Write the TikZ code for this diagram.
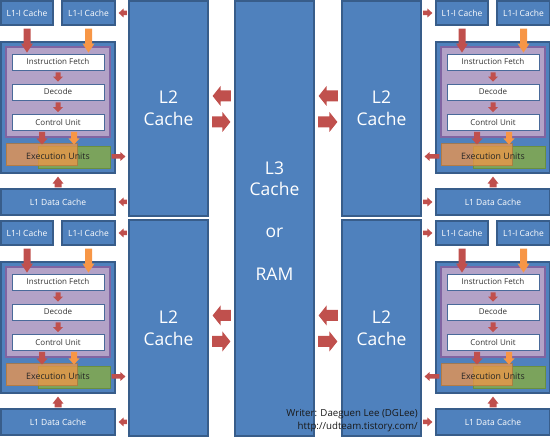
\documentclass[tikz,border=0pt]{standalone}
\usepackage{fontspec}
\setmainfont{Open Sans}
\usetikzlibrary{calc}

\definecolor{boxblue}{HTML}{4F81BD}
\definecolor{boxline}{HTML}{385D8A}
\definecolor{pipefill}{HTML}{B3A2C7}
\definecolor{pipeline}{HTML}{8064A2}
\definecolor{stageline}{HTML}{4A6A9A}
\definecolor{stagetext}{HTML}{333333}
\definecolor{exorange}{HTML}{F79646}
\definecolor{exorangeline}{HTML}{B0783C}
\definecolor{exgreen}{HTML}{7BA35C}
\definecolor{exgreenline}{HTML}{6A8F3E}
\definecolor{arrred}{HTML}{C0504D}
\definecolor{arrorange}{HTML}{F79646}

\tikzset{
  cache/.style={draw=boxline, fill=boxblue, line width=1.2pt, inner sep=0pt, text=white, font=\fontsize{8.5}{10}\selectfont},
  l1box/.style={cache, minimum width=52pt, minimum height=24pt},
  l1dbox/.style={cache, minimum width=114pt, minimum height=26pt},
  corebox/.style={cache, minimum width=114pt, minimum height=131pt},
  bigcache/.style={cache, minimum width=79pt, align=center, font=\fontsize{17.5}{22}\selectfont},
  pipe/.style={draw=pipeline, fill=pipefill, line width=1.2pt, minimum width=104pt, minimum height=90pt, inner sep=0pt},
  stagebox/.style={draw=stageline, fill=white, line width=0.8pt, minimum width=92pt, minimum height=16pt, inner sep=0pt, text=stagetext, font=\fontsize{8}{10}\selectfont},
  exo/.style={draw=exorangeline, fill=exorange, fill opacity=0.72, draw opacity=0.8, line width=1pt, minimum width=71pt, minimum height=22pt, inner sep=0pt},
  exg/.style={draw=exgreenline, fill=exgreen, line width=1pt, minimum width=72pt, minimum height=22pt, inner sep=0pt},
  extext/.style={text=black!85, font=\fontsize{8.8}{10}\selectfont, inner sep=0pt},
  gapin/.store in=\gapin, gapout/.store in=\gapout,
  blkshaft/.store in=\blkshaft, blkhead/.store in=\blkhead, blklen/.store in=\blklen,
  gapin=0pt, gapout=0pt, blkshaft=2pt, blkhead=4pt, blklen=4pt,
  blockarrow/.style={to path={let \p1=($(\tikztostart)!\gapin!(\tikztotarget)$), \p2=($(\tikztotarget)!\gapout!(\tikztostart)$), \p3=($(\p2)!\blklen!(\p1)$) in
    ($(\p1)!\blkshaft!90:(\p2)$) -- ($(\p3)!\blkshaft!90:(\p2)$) -- ($(\p3)!\blkhead!90:(\p2)$) -- (\p2)
    -- ($(\p3)!\blkhead!-90:(\p2)$) -- ($(\p3)!\blkshaft!-90:(\p2)$) -- ($(\p1)!\blkshaft!-90:(\p2)$) -- cycle}},
  arrbig/.style={fill=arrred, blockarrow, gapin=3.5pt, gapout=4pt, blkshaft=5.5pt, blkhead=10pt, blklen=8pt},
  arrfeed/.style={blockarrow, gapin=3pt, gapout=1pt, blkshaft=3.5pt, blkhead=6pt, blklen=9pt},
  arrstage/.style={fill=arrred, blockarrow, gapin=2pt, gapout=2pt, blkshaft=2.5pt, blkhead=5pt, blklen=5pt},
  arrissue/.style={blockarrow, gapin=1pt, gapout=-1pt, blkshaft=3pt, blkhead=5.5pt, blklen=6pt},
  arrload/.style={fill=arrred, blockarrow, gapin=1pt, gapout=3pt, blkshaft=3.5pt, blkhead=5.5pt, blklen=7pt},
  arrside/.style={fill=arrred, blockarrow, gapin=1.5pt, gapout=3pt, blkshaft=2.25pt, blkhead=4.5pt, blklen=5pt},
}

\begin{document}
\begin{tikzpicture}[x=1pt,y=-1pt]
  \useasboundingbox (0,0) rectangle (550,438);
  \node[bigcache, minimum height=215pt] (l2a) at (168.5,108.5) {L2\\Cache};
  \node[bigcache, minimum height=215pt] (l2b) at (381.5,108.5) {L2\\Cache};
  \node[bigcache, minimum height=216pt] (l2c) at (168.5,328) {L2\\Cache};
  \node[bigcache, minimum height=216pt] (l2d) at (381.5,328) {L2\\Cache};
  \node[bigcache, minimum height=435pt] (l3) at (274.5,218.5) {};
  \node[text=white, align=center, font=\fontsize{17.5}{21}\selectfont] (l3text) at ($(l3)+(0,2.5)$) {L3\\Cache\\[21.5pt]or\\[21.5pt]RAM};

  \foreach \c/\dx/\dy/\coreside/\cacheside in {a/0/0/east/west, b/435/0/west/east, c/0/220/east/west, d/435/220/west/east}{
    \begin{scope}[shift={(\dx,\dy)}]
      \node[l1box] (l1ia\c) at (27,13) {L1-I Cache};
      \node[l1box, minimum width=53pt] (l1ib\c) at (88.5,13) {L1-I Cache};
      \node[corebox] (core\c) at (58,107.5) {};
      \node[pipe] (pipe\c) at (58,92) {};
      \node[stagebox] (fetch\c) at (58,62) {Instruction Fetch};
      \node[stagebox] (decode\c) at (58,92) {Decode};
      \node[stagebox] (ctrl\c) at (58,122.5) {Control Unit};
      \node[exg] (grn\c) at (74,158) {};
      \node[exo] (orng\c) at (41.5,155) {};
      \node[extext] (exu\c) at (58,156.5) {Execution Units};
      \node[l1dbox] (l1d\c) at (58,202) {L1 Data Cache};
    \end{scope}
    \fill[arrfeed, fill=arrred] (l1ia\c.south) to (l1ia\c.south |- fetch\c.north);
    \fill[arrfeed, fill=arrorange] (l1ib\c.south) to (l1ib\c.south |- fetch\c.north);
    \fill[arrstage] (fetch\c.south) to (decode\c.north);
    \fill[arrstage] (decode\c.south) to (ctrl\c.north);
    \fill[arrissue, fill=arrred] ($(ctrl\c.south)+(-16,0)$) to ($(ctrl\c.south |- orng\c.north)+(-16,0)$);
    \fill[arrissue, fill=arrorange] ($(ctrl\c.south)+(16,0)$) to ($(ctrl\c.south |- orng\c.north)+(16,0)$);
    \fill[arrload] (l1d\c.north) to (l1d\c.north |- core\c.south);
    \fill[arrside] (l2\c.\cacheside |- l1ia\c) to (core\c.\coreside |- l1ia\c);
    \fill[arrside, gapin=-4pt] (core\c.\coreside |- exu\c) to (l2\c.\cacheside |- exu\c);
    \fill[arrside] (l2\c.\cacheside |- l1d\c) to (l1d\c.\coreside);
  }

  \foreach \c/\lft/\rgt in {a/l2a.east/l3.west, b/l3.east/l2b.west, c/l2c.east/l3.west, d/l3.east/l2d.west}{
    \fill[arrbig] ($(\rgt |- l2\c)+(0,-12.5)$) to ($(\lft |- l2\c)+(0,-12.5)$);
    \fill[arrbig] ($(\lft |- l2\c)+(0,13.5)$) to ($(\rgt |- l2\c)+(0,13.5)$);
  }

  \node[anchor=east, align=right, inner sep=0pt, text=black!90, font=\fontsize{9.7}{13}\selectfont] (credit) at (418,420.5) {Writer: Daeguen Lee (DGLee)\\http://udteam.tistory.com/};
\end{tikzpicture}
\end{document}
